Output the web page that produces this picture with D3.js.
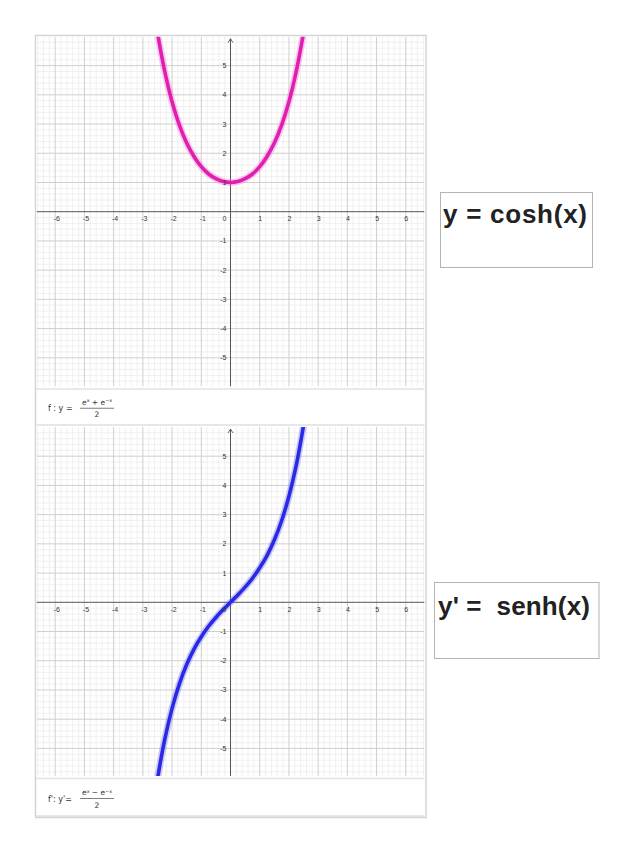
<!DOCTYPE html>
<html><head><meta charset="utf-8">
<script src="https://cdn.jsdelivr.net/npm/d3@7"></script>
<style>body{margin:0;background:#fff}svg{display:block}</style>
</head><body>
<script>
// ---- data ----
const xTicks = [-6,-5,-4,-3,-2,-1,1,2,3,4,5,6];
const yTicks = [-5,-4,-3,-2,-1,1,2,3,4,5];
const sampleX = [-2.6,-2.5,-2.25,-2,-1.75,-1.5,-1.25,-1,-0.75,-0.5,-0.25,0,0.25,0.5,0.75,1,1.25,1.5,1.75,2,2.25,2.5,2.6];
const coshY  = [6.77,6.13,4.80,3.76,2.96,2.35,1.89,1.54,1.29,1.13,1.03,1.00,1.03,1.13,1.29,1.54,1.89,2.35,2.96,3.76,4.80,6.13,6.77];
const sinhY  = [-6.70,-6.05,-4.69,-3.63,-2.79,-2.13,-1.60,-1.18,-0.82,-0.52,-0.25,0.00,0.25,0.52,0.82,1.18,1.60,2.13,2.79,3.63,4.69,6.05,6.70];
const labels = ["y = cosh(x)", "y' =  senh(x)"];

const W = 638, H = 851;
const svg = d3.select("body").append("svg").attr("width", W).attr("height", H);

const left = 36.5, right = 424.5;
const unit = 29.22;
const x = d3.scaleLinear().domain([-6.64, 6.64]).range([left, right]);

const panels = [
  {top: 36.7, bottom: 386.5, origin: 211.7, data: coshY, color: "#e01fb0", halo: "#f06ad0",
   name: "f : y =", sign: "+", formBottom: 425},
  {top: 427, bottom: 776, origin: 602.3, data: sinhY, color: "#2a2ae6", halo: "#6a6af0",
   name: "f': y'=", sign: "−", formBottom: 816}
];

// outer frame shadow
svg.append("rect").attr("x", left - 1).attr("y", 35.5).attr("width", right - left + 2.5)
  .attr("height", 816 - 35.5 + 1.5).attr("fill", "none").attr("stroke", "#d4d4d4").attr("stroke-width", 1.5);

panels.forEach((p, i) => {
  const y = d3.scaleLinear()
    .domain([-(p.bottom - p.origin) / unit, (p.origin - p.top) / unit])
    .range([p.bottom, p.top]);
  const g = svg.append("g");
  const clipId = "clip" + i;
  svg.append("clipPath").attr("id", clipId).append("rect")
    .attr("x", left).attr("y", p.top).attr("width", right - left).attr("height", p.bottom - p.top);

  g.append("rect").attr("x", left).attr("y", p.top).attr("width", right - left)
    .attr("height", p.bottom - p.top).attr("fill", "#fff");

  const gg = g.append("g").attr("clip-path", `url(#${clipId})`);
  // minor grid
  const [x0, x1] = x.domain(), [y0, y1] = y.domain();
  const minorX = d3.range(Math.ceil(x0 * 5), Math.floor(x1 * 5) + 1).map(d => d / 5).filter(d => Math.abs(d * 5 % 5) > 1e-6);
  const minorY = d3.range(Math.ceil(y0 * 5), Math.floor(y1 * 5) + 1).map(d => d / 5).filter(d => Math.abs(d * 5 % 5) > 1e-6);
  gg.selectAll(".mx").data(minorX).join("line")
    .attr("x1", d => x(d)).attr("x2", d => x(d)).attr("y1", p.top).attr("y2", p.bottom)
    .attr("stroke", "#ececec").attr("stroke-width", 0.8);
  gg.selectAll(".my").data(minorY).join("line")
    .attr("y1", d => y(d)).attr("y2", d => y(d)).attr("x1", left).attr("x2", right)
    .attr("stroke", "#ececec").attr("stroke-width", 0.8);
  // major grid
  gg.selectAll(".Mx").data(xTicks).join("line")
    .attr("x1", d => x(d)).attr("x2", d => x(d)).attr("y1", p.top).attr("y2", p.bottom)
    .attr("stroke", "#cfcfcf").attr("stroke-width", 1);
  gg.selectAll(".My").data(yTicks).join("line")
    .attr("y1", d => y(d)).attr("y2", d => y(d)).attr("x1", left).attr("x2", right)
    .attr("stroke", "#cfcfcf").attr("stroke-width", 1);

  // axes
  gg.append("line").attr("x1", left).attr("x2", right).attr("y1", y(0)).attr("y2", y(0))
    .attr("stroke", "#555").attr("stroke-width", 1);
  gg.append("line").attr("x1", x(0)).attr("x2", x(0)).attr("y1", p.top + 2).attr("y2", p.bottom)
    .attr("stroke", "#555").attr("stroke-width", 1);
  gg.append("path").attr("d", `M${x(0) - 2.5},${p.top + 6} L${x(0)},${p.top + 2} L${x(0) + 2.5},${p.top + 6}`)
    .attr("fill", "none").attr("stroke", "#555").attr("stroke-width", 0.9);

  // tick labels
  const lf = {"font-family": "Liberation Sans, Arial, sans-serif", "font-size": "7px", fill: "#333"};
  const xl = g.selectAll(".xl").data(xTicks).join("text")
    .attr("x", d => x(d) + (d < 0 ? 1.5 : 0.5)).attr("y", y(0) + 9.5).attr("text-anchor", "middle")
    .text(d => d < 0 ? "-" + Math.abs(d) : d);
  const yl = g.selectAll(".yl").data(yTicks).join("text")
    .attr("x", x(0) - 4).attr("y", d => y(d) + 2.5).attr("text-anchor", "end")
    .text(d => d < 0 ? "-" + Math.abs(d) : d);
  const zl = g.append("text").attr("x", x(0) - 4).attr("y", y(0) + 9.5).attr("text-anchor", "end").text("0");
  [xl, yl, zl].forEach(s => Object.entries(lf).forEach(([k, v]) => s.attr(k, v)));

  // curve
  const line = d3.line().x((d, j) => x(sampleX[j])).y(d => y(d)).curve(d3.curveCatmullRom);
  gg.append("path").datum(p.data).attr("d", line).attr("fill", "none")
    .attr("stroke", p.halo).attr("stroke-opacity", 0.35).attr("stroke-width", 7);
  gg.append("path").datum(p.data).attr("d", line).attr("fill", "none")
    .attr("stroke", p.color).attr("stroke-width", 3.6).attr("stroke-linecap", "round");

  // formula area
  g.append("line").attr("x1", left).attr("x2", right).attr("y1", p.bottom + 2.5).attr("y2", p.bottom + 2.5)
    .attr("stroke", "#e2e2e2").attr("stroke-width", 1.5);
  g.append("line").attr("x1", left).attr("x2", right).attr("y1", p.formBottom).attr("y2", p.formBottom)
    .attr("stroke", "#cfcfcf").attr("stroke-width", 1.2);
  const fy = (p.bottom + p.formBottom) / 2 + 4;
  const ff = "DejaVu Sans, sans-serif";
  g.append("text").attr("x", 48).attr("y", fy + 1.5).attr("font-family", ff).attr("font-size", "8px")
    .attr("fill", "#333").text(p.name);
  const num = g.append("text").attr("x", 97).attr("y", fy - 5).attr("text-anchor", "middle")
    .attr("font-family", ff).attr("font-size", "7.5px").attr("fill", "#333");
  num.append("tspan").text("e");
  num.append("tspan").attr("dy", -2.5).attr("font-size", "4.8px").text("x");
  num.append("tspan").attr("dy", 2.5).text(" " + p.sign + " e");
  num.append("tspan").attr("dy", -2.5).attr("font-size", "4.8px").text("−x");
  g.append("line").attr("x1", 80).attr("x2", 114).attr("y1", fy - 1.5).attr("y2", fy - 1.5)
    .attr("stroke", "#444").attr("stroke-width", 0.7);
  g.append("text").attr("x", 97).attr("y", fy + 7.5).attr("text-anchor", "middle")
    .attr("font-family", ff).attr("font-size", "7.5px").attr("fill", "#333").text("2");
});

// label boxes
const boxes = [
  {x: 440.5, y: 192.5, w: 152, h: 75, tx: 443, ty: 223, tw: 144},
  {x: 434.5, y: 582.5, w: 164.5, h: 76, tx: 438, ty: 615, tw: 152}
];
boxes.forEach((b, i) => {
  svg.append("rect").attr("x", b.x).attr("y", b.y).attr("width", b.w).attr("height", b.h)
    .attr("fill", "#fff").attr("stroke", "#b4b4b4").attr("stroke-width", 1);
  svg.append("text").attr("x", b.tx).attr("y", b.ty)
    .attr("font-family", "Liberation Sans, Arial, Helvetica, sans-serif").attr("font-weight", "bold")
    .attr("font-size", "26px").attr("fill", "#222")
    .attr("textLength", b.tw).attr("lengthAdjust", "spacing")
    .style("white-space", "pre").text(labels[i]);
});
</script>
</body></html>
